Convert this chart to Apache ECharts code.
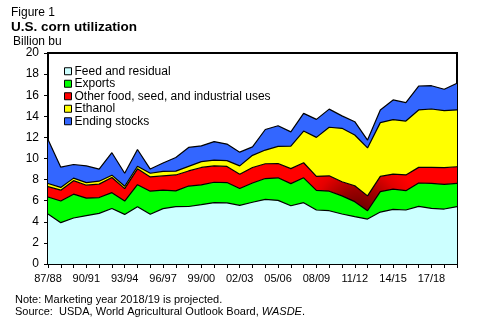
<!DOCTYPE html>
<html><head><meta charset="utf-8">
<script src="https://cdn.jsdelivr.net/npm/echarts@6/dist/echarts.min.js"></script>
<style>html,body{margin:0;padding:0;background:#fff}#c{width:486px;height:327px}</style>
</head><body><div id="c"></div>
<script>
const years = ['87/88','88/89','89/90','90/91','91/92','92/93','93/94','94/95','95/96','96/97','97/98','98/99','99/00','00/01','01/02','02/03','03/04','04/05','05/06','06/07','07/08','08/09','09/10','10/11','11/12','12/13','13/14','14/15','15/16','16/17','17/18','18/19','19/20'];
const feed = [4.74,3.92,4.36,4.58,4.80,5.26,4.70,5.43,4.71,5.25,5.43,5.45,5.62,5.81,5.80,5.56,5.85,6.12,6.03,5.52,5.81,5.12,5.05,4.74,4.49,4.26,4.92,5.18,5.12,5.46,5.28,5.21,5.43];
const exportsB = [1.61,2.05,2.26,1.66,1.50,1.50,1.27,2.09,2.19,1.75,1.50,1.94,1.88,1.94,1.92,1.60,1.83,1.98,2.14,2.10,2.36,1.86,1.85,1.72,1.42,0.79,1.94,1.92,1.83,2.22,2.37,2.34,2.22];
const otherFSI = [0.98,1.03,1.28,1.23,1.27,1.44,1.17,1.50,1.35,1.35,1.51,1.43,1.65,1.55,1.53,1.34,1.47,1.40,1.35,1.42,1.43,1.33,1.46,1.34,1.51,1.41,1.44,1.42,1.49,1.48,1.51,1.58,1.57];
const ethanol = [0.30,0.26,0.24,0.24,0.28,0.22,0.23,0.25,0.35,0.43,0.36,0.43,0.55,0.55,0.55,0.80,1.15,1.30,1.63,2.14,3.00,3.69,4.60,5.06,4.81,4.54,5.10,5.16,5.11,5.44,5.53,5.40,5.38];
const stocks = [4.17,1.92,1.29,1.59,1.15,2.13,1.23,1.58,0.40,0.79,1.30,1.80,1.50,1.75,1.57,1.30,0.80,1.95,1.95,1.34,1.68,1.71,1.72,1.18,1.26,0.75,1.20,1.87,1.74,2.27,2.21,2.03,2.53];
const seriesNames = ['Feed and residual','Exports','Other food, seed, and industrial uses','Ethanol','Ending stocks'];

const FONT = 'Liberation Sans, Arial, sans-serif';
const chart = echarts.init(document.getElementById('c'), null, {renderer:'canvas'});
const redFill = new echarts.graphic.RadialGradient(358, 214, 60, [
  {offset:0, color:'#600000'},
  {offset:0.4, color:'#9a0000'},
  {offset:0.75, color:'#e40000'},
  {offset:1, color:'#ff0000'}
], true);
function mk(name, data, color, fill){
  return {
    name, type:'line', stack:'total', data, symbol:'none', smooth:false,
    color: color,
    itemStyle:{color: color},
    lineStyle:{color:'#000', width:1.2},
    areaStyle:{color: fill || color, opacity:1},
    emphasis:{disabled:true}
  };
}
chart.setOption({
  animation:false,
  backgroundColor:'#fff',
  textStyle:{fontFamily:FONT},
  grid:{left:48, right:29, top:53, bottom:63, show:true, borderColor:'#000', borderWidth:2, backgroundColor:'transparent'},
  legend:{
    orient:'vertical', left:59, top:60, itemGap:0,
    itemWidth:7, itemHeight:7, icon:'rect',
    itemStyle:{borderColor:'#000', borderWidth:1},
    textStyle:{fontFamily:FONT, fontSize:12, color:'#000', lineHeight:12.5, padding:[0,0,0,-2]},
    data:seriesNames
  },
  xAxis:{
    type:'category', data:years, boundaryGap:false,
    axisLine:{lineStyle:{color:'#000', width:2}},
    axisTick:{show:true, interval:0, length:4, lineStyle:{color:'#000'}},
    axisLabel:{interval:2, color:'#000', fontSize:11, margin:9, fontFamily:FONT},
    splitLine:{show:false}
  },
  yAxis:{
    type:'value', min:0, max:20, interval:2,
    axisLine:{show:true, lineStyle:{color:'#000', width:2}},
    axisTick:{show:true, length:4, lineStyle:{color:'#000'}},
    axisLabel:{color:'#000', fontSize:12, margin:9, fontFamily:FONT},
    splitLine:{show:false}
  },
  graphic:[
    {type:'text', left:11, top:7, style:{text:'Figure 1', font:'12px '+FONT, fill:'#000'}},
    {type:'text', left:11, top:20, style:{text:'U.S. corn utilization', font:'bold 13.5px '+FONT, fill:'#000'}},
    {type:'text', left:13, top:36, style:{text:'Billion bu', font:'12px '+FONT, fill:'#000'}},
    {type:'text', left:15, top:294, style:{text:'Note: Marketing year 2018/19 is projected.', font:'11px '+FONT, fill:'#000'}},
    {type:'text', left:15, top:306, style:{text:'Source:  USDA, World Agricultural Outlook Board, {i|WASDE}.', font:'11px '+FONT, fill:'#000', rich:{i:{fontStyle:'italic', fontSize:11, fontFamily:FONT}}}}
  ],
  series:[
    mk(seriesNames[0], feed, '#ccffff'),
    mk(seriesNames[1], exportsB, '#00ff00'),
    mk(seriesNames[2], otherFSI, '#ff0000', redFill),
    mk(seriesNames[3], ethanol, '#ffff00'),
    mk(seriesNames[4], stocks, '#3366ff')
  ]
});
</script></body></html>
